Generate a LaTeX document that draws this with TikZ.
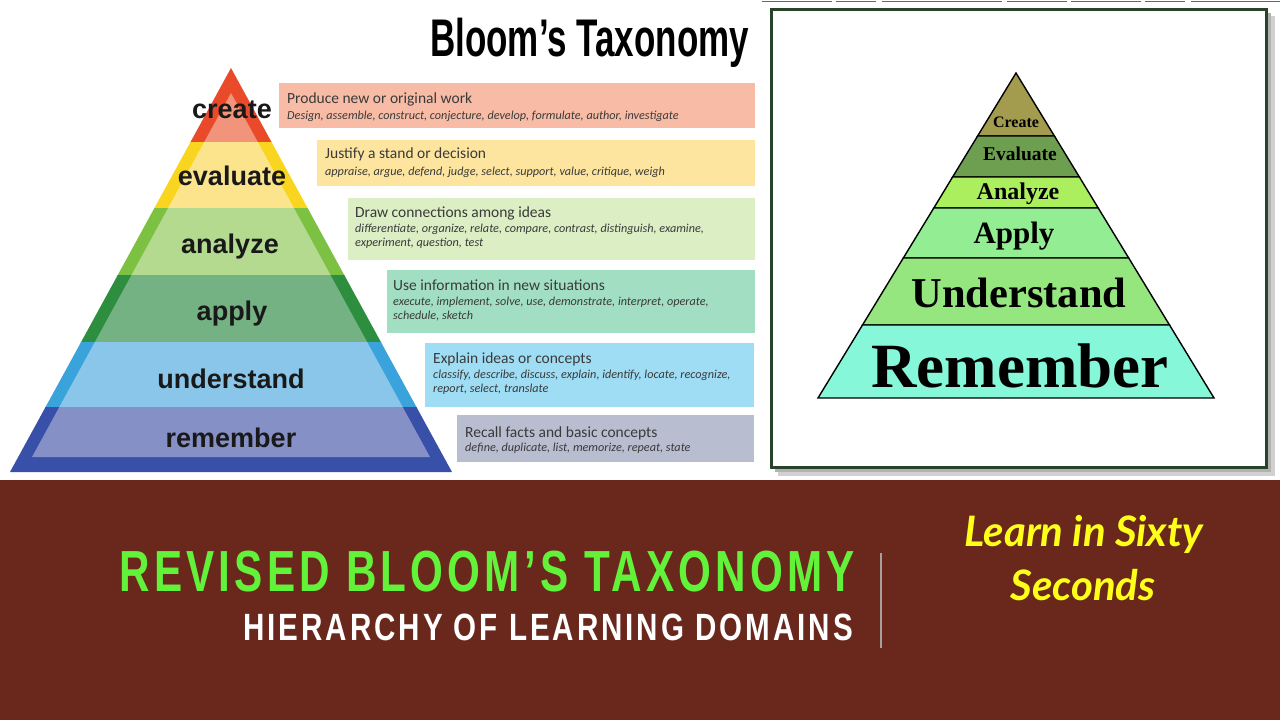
\documentclass[tikz,border=0pt]{standalone}
\usepackage{fontspec}
\usepackage{graphicx}
\setmainfont{Liberation Sans}
\newfontfamily\descfont{Carlito}
\newfontfamily\romanfont{Liberation Serif}
\newfontfamily\trackedfont{Liberation Sans}[LetterSpace=10]
\newfontfamily\taglinefont{Lato}

% left pyramid: edge colour / inner colour per level
\definecolor{crOut}{HTML}{E94B2A}\definecolor{crIn}{HTML}{F2937B}
\definecolor{evOut}{HTML}{F9D520}\definecolor{evIn}{HTML}{FCE48C}
\definecolor{anOut}{HTML}{7DC143}\definecolor{anIn}{HTML}{B3DA8E}
\definecolor{apOut}{HTML}{2E8E3F}\definecolor{apIn}{HTML}{74B183}
\definecolor{unOut}{HTML}{3BA3DB}\definecolor{unIn}{HTML}{89C6EA}
\definecolor{reOut}{HTML}{3850A8}\definecolor{reIn}{HTML}{8590C6}
% description boxes
\definecolor{crBox}{HTML}{F8BCA6}\definecolor{evBox}{HTML}{FDE5A0}
\definecolor{anBox}{HTML}{DCEEC4}\definecolor{apBox}{HTML}{A2DFC2}
\definecolor{unBox}{HTML}{9FDDF4}\definecolor{reBox}{HTML}{B8BDD0}
\definecolor{descText}{HTML}{3A3A3A}
% right pyramid
\definecolor{rCreate}{HTML}{A39C4E}\definecolor{rEval}{HTML}{6E9E50}
\definecolor{rAnal}{HTML}{ACEF5E}\definecolor{rApply}{HTML}{93EE93}
\definecolor{rUnder}{HTML}{95E67E}\definecolor{rRemem}{HTML}{86F7D9}
\definecolor{frameGreen}{HTML}{27432A}
% title band
\definecolor{bandBrown}{HTML}{6A281C}
\definecolor{titleGreen}{HTML}{63F23A}
\definecolor{tagYellow}{HTML}{FFFF1A}
\definecolor{sepGray}{HTML}{A89E9C}

% one level of the left pyramid, between heights #1 and #2
\newcommand\leftband[4]{%
  \begin{scope}
    \clip (0,#1) rectangle (470,#2);
    \fill[#3] (231,68) -- (452,472) -- (10,472) -- cycle;
    \fill[#4] (231,93) -- (430,457) -- (32,457) -- cycle;
  \end{scope}}

\begin{document}
\begin{tikzpicture}[x=1pt,y=-1pt,
  levellabel/.style={anchor=base, inner sep=0, text=black!90,
    font=\bfseries\fontsize{27}{30}\selectfont},
  deschead/.style={anchor=base west, inner sep=0, text=descText,
    font=\descfont\fontsize{15.5}{18}\selectfont},
  descbody/.style={anchor=base west, inner sep=0, text=descText,
    font=\descfont\itshape\fontsize{12.2}{14}\selectfont},
  rlabel/.style={anchor=base, inner sep=0, text=black},
  rband/.style={fill=#1, draw=black, line width=1.4, line join=miter}
]
\useasboundingbox (0,0) rectangle (1280,720);
\fill[white] (0,0) rectangle (1280,480);

% ---------------- left pyramid ----------------
\leftband{0}{142}{crOut}{crIn}
\leftband{142}{208}{evOut}{evIn}
\leftband{208}{275}{anOut}{anIn}
\leftband{275}{342}{apOut}{apIn}
\leftband{342}{407}{unOut}{unIn}
\leftband{407}{480}{reOut}{reIn}

\node[levellabel] (lcreate)   at (232,118) {create};
\node[levellabel] (levaluate) at (232,185) {evaluate};
\node[levellabel] (lanalyze)  at (230,253) {analyze};
\node[levellabel] (lapply)    at (232,320) {apply};
\node[levellabel] (lunder)    at (231,388) {understand};
\node[levellabel] (lremember) at (231,447) {remember};

% heading
\node[anchor=base west, inner sep=0] (heading) at (430,56)
  {\scalebox{0.66}[1]{\bfseries\fontsize{53}{56}\selectfont Bloom’s Taxonomy}};

% ---------------- description boxes ----------------
\fill[crBox] (279,83)  rectangle (755,128);
\fill[evBox] (317,140) rectangle (755,186);
\fill[anBox] (348,198) rectangle (755,260);
\fill[apBox] (387,270) rectangle (755,333);
\fill[unBox] (425,343) rectangle (754,407);
\fill[reBox] (457,415) rectangle (754,462);

\node[deschead] (dcreate) at (287,103) {Produce new or original work};
\node[descbody] (dcreateb) at (287,119) {Design, assemble, construct, conjecture, develop, formulate, author, investigate};

\node[deschead] (deval) at (325,158) {Justify a stand or decision};
\node[descbody] (devalb) at (325,175) {appraise, argue, defend, judge, select, support, value, critique, weigh};

\node[deschead] (danal) at (355,217) {Draw connections among ideas};
\node[descbody] (danalb) at (355,232) {differentiate, organize, relate, compare, contrast, distinguish, examine,};
\node[descbody] (danalc) at (355,246) {experiment, question, test};

\node[deschead] (dapply) at (393,290) {Use information in new situations};
\node[descbody] (dapplyb) at (393,305) {execute, implement, solve, use, demonstrate, interpret, operate,};
\node[descbody] (dapplyc) at (393,319) {schedule, sketch};

\node[deschead] (dunder) at (433,363) {Explain ideas or concepts};
\node[descbody] (dunderb) at (433,378) {classify, describe, discuss, explain, identify, locate, recognize,};
\node[descbody] (dunderc) at (433,392) {report, select, translate};

\node[deschead] (dremem) at (465,437) {Recall facts and basic concepts};
\node[descbody] (dremenb) at (465,451) {define, duplicate, list, memorize, repeat, state};

% ---------------- framed pyramid on the right ----------------
\draw[black!60, line width=1, dash pattern=on 70 off 4 on 40 off 6 on 120 off 5 on 60 off 4]
  (762,1) -- (1280,1);
% soft shadow of the frame
\draw[black!18, line width=6] (1272,16) -- (1272,473) -- (778,473);
\draw[black!30, line width=3] (1269,13) -- (1269,470) -- (775,470);
\fill[white] (771,9) rectangle (1266,467);
\draw[frameGreen, line width=3] (771,9) rectangle (1266,467);

\draw[rband=rCreate] (1016,73) -- (1054.4,136) -- (977.6,136) -- cycle;
\draw[rband=rEval]   (977.6,136) -- (1054.4,136) -- (1079.4,177) -- (952.6,177) -- cycle;
\draw[rband=rAnal]   (952.6,177) -- (1079.4,177) -- (1098.2,208) -- (933.8,208) -- cycle;
\draw[rband=rApply]  (933.8,208) -- (1098.2,208) -- (1128.7,258) -- (903.3,258) -- cycle;
\draw[rband=rUnder]  (903.3,258) -- (1128.7,258) -- (1169.5,325) -- (862.5,325) -- cycle;
\draw[rband=rRemem]  (862.5,325) -- (1169.5,325) -- (1214,398) -- (818,398) -- cycle;

\node[rlabel, font=\romanfont\bfseries\fontsize{16}{18}\selectfont] (rcreate) at (1016,127) {Create};
\node[rlabel, font=\romanfont\bfseries\fontsize{19.5}{22}\selectfont] (reval) at (1020,160) {Evaluate};
\node[rlabel, font=\romanfont\bfseries\fontsize{24}{26}\selectfont] (ranal) at (1018,199) {Analyze};
\node[rlabel, font=\romanfont\bfseries\fontsize{31}{34}\selectfont] (rapply) at (1014,243) {Apply};
\node[rlabel, font=\romanfont\bfseries\fontsize{42.5}{46}\selectfont] (runder) at (1019,307) {Understand};
\node[rlabel, font=\romanfont\bfseries\fontsize{63}{66}\selectfont] (rremem) at (1020,387) {Remember};

% ---------------- title band ----------------
\fill[bandBrown] (0,480) rectangle (1280,720);

\node[anchor=base east, inner sep=0, text=titleGreen] (title) at (855,591)
  {\scalebox{0.728}[1]{\trackedfont\bfseries\fontsize{58}{60}\selectfont REVISED BLOOM’S TAXONOMY}};
\node[anchor=base east, inner sep=0, text=white] (subtitle) at (853,640)
  {\scalebox{0.778}[1]{\trackedfont\bfseries\fontsize{38}{40}\selectfont HIERARCHY OF LEARNING DOMAINS}};

\coordinate (sepTop) at (881,553);
\coordinate (sepBot) at (881,648);
\draw[sepGray, line width=2] (sepTop) -- (sepBot);

\node[anchor=base, inner sep=0, text=tagYellow,
  font=\taglinefont\bfseries\itshape\fontsize{42}{46}\selectfont] (tag1) at (1084,546) {Learn in Sixty};
\node[anchor=base, inner sep=0, text=tagYellow,
  font=\taglinefont\bfseries\itshape\fontsize{42}{46}\selectfont] (tag2) at (1083,600) {Seconds};
\end{tikzpicture}
\end{document}
